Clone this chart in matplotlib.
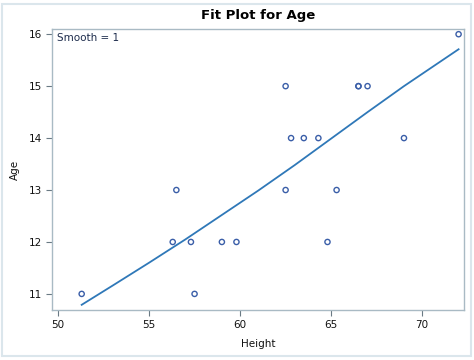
import matplotlib
matplotlib.use('Agg')
from matplotlib import pyplot as plt
from matplotlib.patches import Rectangle

# sashelp.class: height vs age
height = [69.0, 56.5, 65.3, 62.8, 63.5, 57.3, 59.8, 62.5, 62.5, 59.0,
          51.3, 64.3, 56.3, 66.5, 72.0, 64.8, 67.0, 57.5, 66.5]
age = [14, 13, 13, 14, 14, 12, 12, 15, 13, 12,
       11, 14, 12, 15, 16, 12, 15, 11, 15]

# loess curve
fit_x = [51.3, 53, 55, 57, 59, 61, 63, 65, 67, 69, 72]
fit_y = [10.79, 11.16, 11.60, 12.05, 12.52, 12.99, 13.48, 13.99, 14.50, 15.00, 15.71]

xticks = [50, 55, 60, 65, 70]
yticks = [11, 12, 13, 14, 15, 16]

fig = plt.figure(figsize=(4.74, 3.6), dpi=100)
fig.patches.append(Rectangle((0.004, 0.012), 0.99, 0.978, transform=fig.transFigure,
                             fill=False, edgecolor='#dbe6ec', linewidth=1.5))
ax = fig.add_axes([0.1097, 0.1389, 0.8693, 0.7805])

ax.plot(fit_x, fit_y, '-', color='#2f78b8', linewidth=1.3, zorder=2)
ax.scatter(height, age, s=14, facecolors='none', edgecolors='#3a5ea8', linewidths=1.0, zorder=3)

ax.set_xlim(49.67, 72.3)
ax.set_ylim(10.69, 16.1)
ax.set_xticks(xticks)
ax.set_yticks(yticks)
for s in ['left', 'bottom', 'right', 'top']:
    ax.spines[s].set_color('#a9bac4')
    ax.spines[s].set_linewidth(1.0)
ax.tick_params(colors='#6a7a84', labelcolor='#111111', labelsize=7.5, length=4, width=0.8)

ax.set_xlabel('Height', fontsize=7.5, color='#111111', labelpad=6)
ax.set_ylabel('Age', fontsize=7.5, color='#111111', labelpad=6)
ax.set_title('Fit Plot for Age', fontsize=9.5, fontweight='bold', pad=7)

ax.text(0.012, 0.985, 'Smooth = 1', transform=ax.transAxes, fontsize=7.5,
        color='#1d2c4c', va='top', ha='left')

fig.savefig('out.png', dpi=100)
